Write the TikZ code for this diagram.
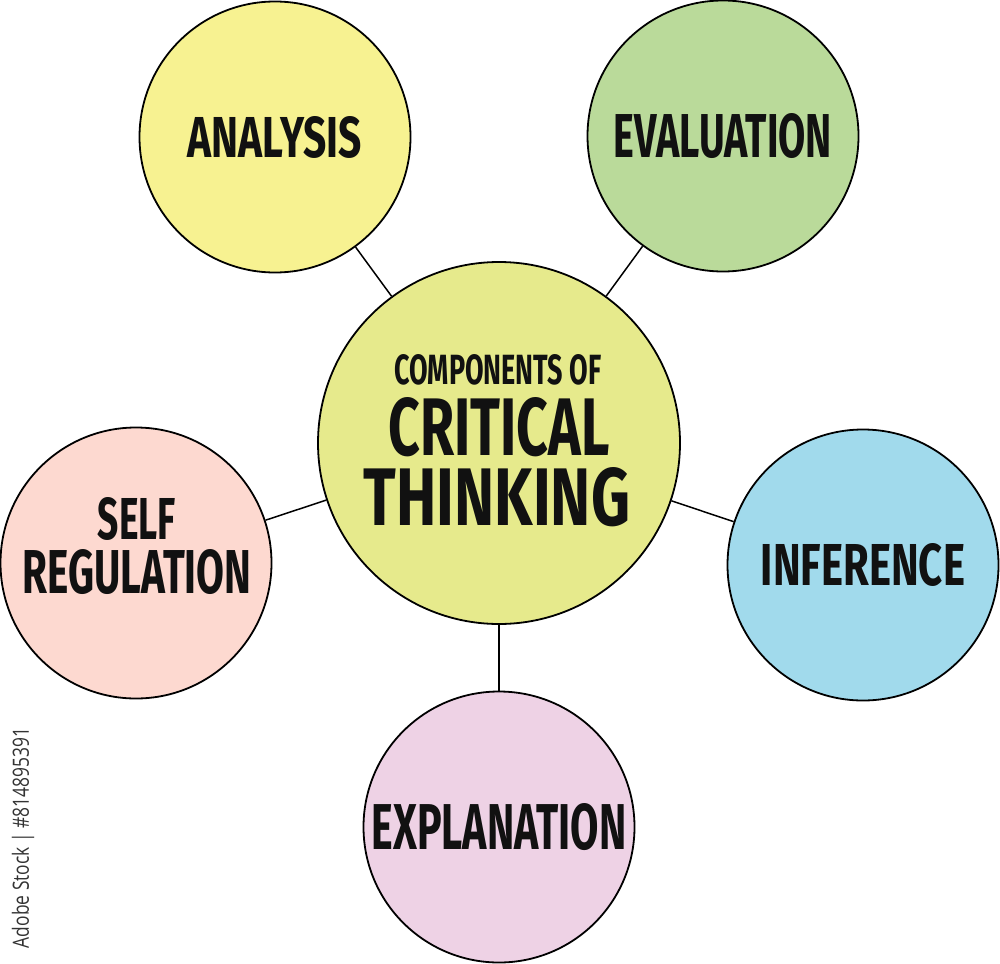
\documentclass[tikz,border=0pt]{standalone}
\usepackage{graphicx}
\usepackage{fontspec}
\setmainfont{Fira Sans}
\newfontfamily\stockfont{Open Sans}
\newcommand{\brushtext}[3]{\resizebox{#1pt}{#2pt}{\bfseries #3}}
\definecolor{analysisfill}{HTML}{F7F291}
\definecolor{evaluationfill}{HTML}{BADA9A}
\definecolor{corefill}{HTML}{E6EA8C}
\definecolor{inferencefill}{HTML}{A1DAEC}
\definecolor{explanationfill}{HTML}{EED2E5}
\definecolor{selffill}{HTML}{FDD9D0}
\definecolor{inkblack}{HTML}{111111}
\tikzset{
    bubble/.style={circle, draw=black, line width=1.8pt, inner sep=0pt, text=inkblack},
    brush/.style={inner sep=0pt, text=inkblack},
    spoke/.style={draw=black, line width=1.5pt}
}

\begin{document}
\begin{tikzpicture}[x=1pt,y=-1pt]
    \useasboundingbox (0,0) rectangle (1000,963);

    \node (core) [bubble, fill=corefill, minimum size=362pt] at (499,443) {};
    \node (analysis) [bubble, fill=analysisfill, minimum size=271pt] at (275,137)
        {\brushtext{174}{41}{ANALYSIS}};
    \node (evaluation) [bubble, fill=evaluationfill, minimum size=271pt] at (723,136)
        {\brushtext{218}{44}{EVALUATION}};
    \node (inference) [bubble, fill=inferencefill, minimum size=271pt] at (863,565)
        {\brushtext{204}{42}{INFERENCE}};
    \node (explanation) [bubble, fill=explanationfill, minimum size=271pt] at (499,827)
        {\brushtext{255}{46}{EXPLANATION}};
    \node (selfreg) [bubble, fill=selffill, minimum size=271pt] at (136,563) {};

    % text of the two bubbles with more than one line
    \node (selfword) [brush] at (137,519) {\brushtext{78}{42}{SELF}};
    \node (regword) [brush] at (137,572) {\brushtext{229}{44}{REGULATION}};
    \node (compword) [brush] at (498,370) {\brushtext{207}{30}{COMPONENTS OF}};
    \node (critword) [brush] at (499,427) {\brushtext{221}{58}{CRITICAL}};
    \node (thinkword) [brush] at (497,497) {\brushtext{266}{58}{THINKING}};

    \draw[spoke] (core) -- (analysis);
    \draw[spoke] (core) -- (evaluation);
    \draw[spoke] (core) -- (inference);
    \draw[spoke] (core) -- (explanation);
    \draw[spoke] (core) -- (selfreg);

    \node (stockid) [inner sep=0pt, rotate=90, text=black!80] at (23,838)
        {\resizebox{220pt}{17pt}{\stockfont Adobe Stock | \#814895391}};
\end{tikzpicture}
\end{document}
